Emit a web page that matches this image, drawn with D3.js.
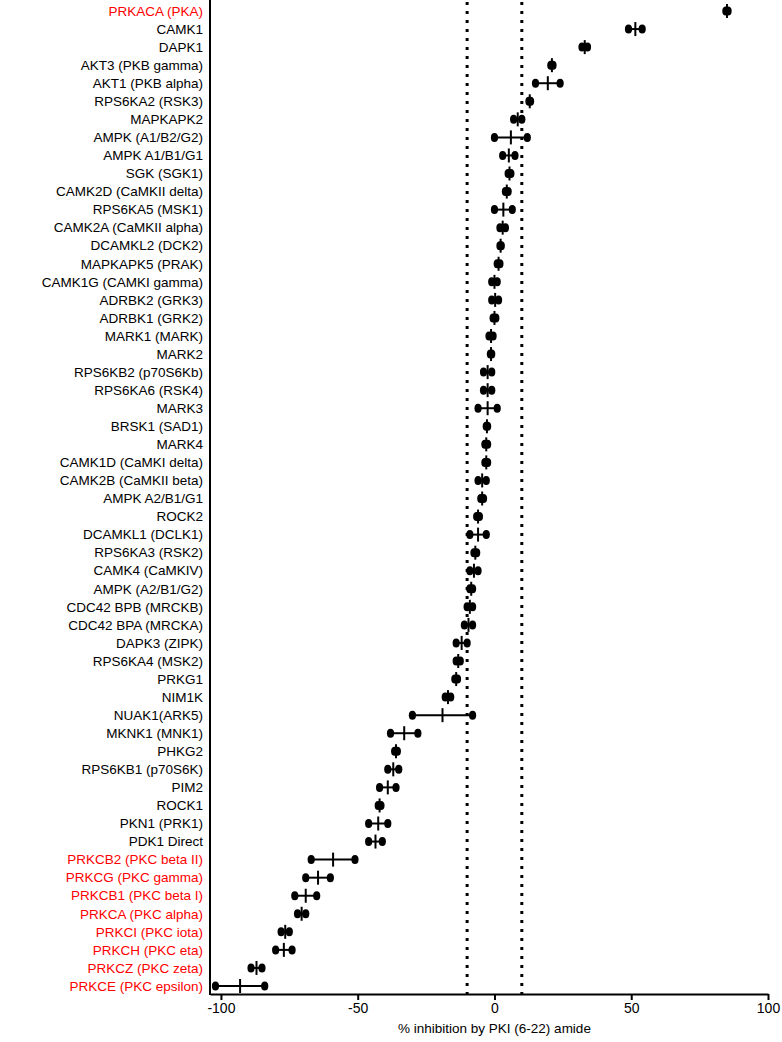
<!DOCTYPE html><html><head><meta charset="utf-8"><script src="https://d3js.org/d3.v7.min.js"></script>
<style>body{margin:0;background:#fff}</style></head><body><script>
const kinases=["PRKACA (PKA)","CAMK1","DAPK1","AKT3 (PKB gamma)","AKT1 (PKB alpha)","RPS6KA2 (RSK3)","MAPKAPK2","AMPK (A1/B2/G2)","AMPK A1/B1/G1","SGK (SGK1)","CAMK2D (CaMKII delta)","RPS6KA5 (MSK1)","CAMK2A (CaMKII alpha)","DCAMKL2 (DCK2)","MAPKAPK5 (PRAK)","CAMK1G (CAMKI gamma)","ADRBK2 (GRK3)","ADRBK1 (GRK2)","MARK1 (MARK)","MARK2","RPS6KB2 (p70S6Kb)","RPS6KA6 (RSK4)","MARK3","BRSK1 (SAD1)","MARK4","CAMK1D (CaMKI delta)","CAMK2B (CaMKII beta)","AMPK A2/B1/G1","ROCK2","DCAMKL1 (DCLK1)","RPS6KA3 (RSK2)","CAMK4 (CaMKIV)","AMPK (A2/B1/G2)","CDC42 BPB (MRCKB)","CDC42 BPA (MRCKA)","DAPK3 (ZIPK)","RPS6KA4 (MSK2)","PRKG1","NIM1K","NUAK1(ARK5)","MKNK1 (MNK1)","PHKG2","RPS6KB1 (p70S6K)","PIM2","ROCK1","PKN1 (PRK1)","PDK1 Direct","PRKCB2 (PKC beta II)","PRKCG (PKC gamma)","PRKCB1 (PKC beta I)","PRKCA (PKC alpha)","PRKCI (PKC iota)","PRKCH (PKC eta)","PRKCZ (PKC zeta)","PRKCE (PKC epsilon)"];
const rep1=[84.6,49,32,20.6,15,12.6,7,0,3,5,4,0,2,2,1,-1,-1,-0.5,-2,-1.5,-4,-4,-6,-3,-3.5,-3.5,-6,-5,-6.5,-9,-7.5,-9,-9,-10,-11,-14,-14,-14.5,-18,-30,-38,-36.5,-39,-42,-42.5,-46,-46,-67,-69,-73,-72,-78,-80,-89,-102];
const rep2=[85.4,54,34,21.4,24,13.2,10,12,7.5,6,5,6.5,4,2.5,2,1,1.5,0.5,-0.5,-1,-1,-1,1,-2.5,-2.5,-2.5,-3,-4,-5.5,-3,-6.5,-6,-8,-8,-8,-10,-12.5,-13.5,-16,-8,-28,-35.5,-35,-36,-41.5,-39,-41,-51,-60,-65,-69,-75,-74,-85,-84];
const redSet=new Set(["PRKACA (PKA)","PRKCB2 (PKC beta II)","PRKCG (PKC gamma)","PRKCB1 (PKC beta I)","PRKCA (PKC alpha)","PRKCI (PKC iota)","PRKCH (PKC eta)","PRKCZ (PKC zeta)","PRKCE (PKC epsilon)"]);
const xTicks=[-100,-50,0,50,100];
const thresholds=[-10,10];
const W=782,H=1042;
const svg=d3.select("body").append("svg").attr("width",W).attr("height",H).style("font-family","Liberation Sans, Arial, sans-serif");
const x=d3.scaleLinear().domain([-104,100]).range([210,768]);
const y=d3.scalePoint().domain(kinases).range([11,986]);
svg.selectAll("line.th").data(thresholds).join("line").attr("x1",d=>x(d)).attr("x2",d=>x(d)).attr("y1",2).attr("y2",994).attr("stroke","#000").attr("stroke-width",3).attr("stroke-dasharray","3,6");
const g=svg.selectAll("g.row").data(kinases).join("g").attr("transform",d=>`translate(0,${y(d)})`);
g.append("line").attr("x1",(d,i)=>x(Math.min(rep1[i],rep2[i]))).attr("x2",(d,i)=>x(Math.max(rep1[i],rep2[i]))).attr("stroke","#000").attr("stroke-width",2);
g.append("line").attr("x1",(d,i)=>x((rep1[i]+rep2[i])/2)).attr("x2",(d,i)=>x((rep1[i]+rep2[i])/2)).attr("y1",-7).attr("y2",7).attr("stroke","#000").attr("stroke-width",2);
g.selectAll("ellipse").data((d,i)=>[rep1[i],rep2[i]]).join("ellipse").attr("cx",v=>x(v)).attr("cy",0).attr("rx",3.6).attr("ry",4.5).attr("fill","#000");
g.append("text").attr("x",203).attr("dy","0.35em").attr("text-anchor","end").attr("font-size",13.5).attr("fill",d=>redSet.has(d)?"#ff0000":"#000").text(d=>d);
const ax=svg.append("g").attr("transform","translate(0,994)").call(d3.axisBottom(x).tickValues(xTicks).tickFormat(d=>String(d)).tickSize(6).tickSizeOuter(0));
ax.select(".domain").attr("stroke-width",2);ax.selectAll(".tick line").attr("stroke-width",2);
ax.selectAll("text").attr("font-size",14).attr("font-family","Liberation Sans, Arial, sans-serif");
svg.append("line").attr("x1",210).attr("x2",210).attr("y1",0).attr("y2",995).attr("stroke","#000").attr("stroke-width",2);
svg.append("text").attr("x",x(0)).attr("y",1033).attr("text-anchor","middle").attr("font-size",13.5).text("% inhibition by PKI (6-22) amide");
</script></body></html>
